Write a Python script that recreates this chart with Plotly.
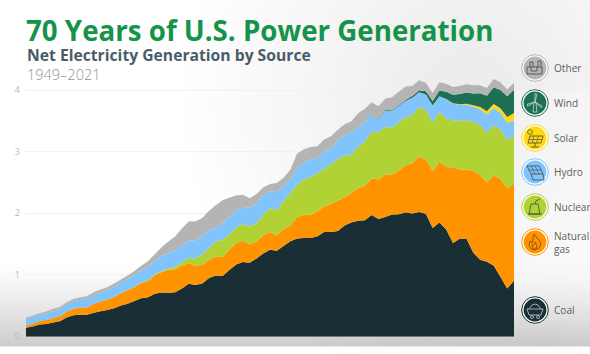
import math
import plotly.graph_objects as go

W, H = 590, 354
L, R, T, B = 26, 514, 65, 336

years = list(range(1949, 2022))
coal = [135,155,185,195,219,239,301,339,346,344,378,403,422,450,494,526,571,614,630,685,706,704,713,771,848,828,853,944,985,976,1075,1162,1203,1192,1259,1342,1402,1386,1464,1541,1584,1594,1592,1622,1690,1691,1709,1796,1845,1873,1881,1966,1904,1933,1974,1978,2013,1991,2016,1986,1756,1847,1733,1514,1581,1582,1352,1239,1206,1146,965,773,899]
gas = [37,45,57,65,72,80,95,104,114,120,147,158,169,184,202,220,222,251,265,304,333,373,374,376,341,320,300,295,306,305,329,346,346,305,274,297,292,249,273,253,352,373,381,404,415,461,496,455,479,532,557,601,639,691,650,710,761,816,897,883,921,988,1014,1226,1125,1127,1335,1378,1296,1469,1586,1624,1580]
nuclear = [0,0,0,0,0,0,0,0,0,0,0,1,2,2,3,3,4,6,8,13,14,22,38,54,83,114,173,191,251,276,255,251,273,283,294,328,384,414,455,527,529,577,613,619,610,640,673,675,629,674,728,754,769,780,764,789,782,787,806,806,799,807,790,769,789,797,797,806,805,807,809,790,778]
hydro = [95,102,105,110,110,112,116,123,130,140,138,146,152,169,166,177,194,195,222,223,250,248,266,273,272,301,300,284,220,280,280,276,261,309,332,321,281,290,250,223,265,290,286,250,277,254,305,343,351,318,312,271,208,260,271,265,265,282,243,250,269,255,314,270,264,254,244,263,294,287,271,282,252]
solar = [0]*59 + [1,1,1,2,4,9,18,25,36,53,64,72,90,115]
wind = [0]*51 + [6,7,10,11,14,18,27,34,55,74,95,120,141,168,182,191,227,254,273,298,338,379]
other = [29,27,24,29,42,41,35,35,42,41,47,48,49,47,52,58,64,78,89,104,139,188,225,273,317,304,292,324,362,369,308,251,212,152,151,128,111,148,130,160,237,204,201,189,205,202,170,175,188,223,217,204,210,184,213,215,216,162,161,138,130,132,127,124,130,134,134,128,126,132,127,112,113]

series = [
    ("Coal", coal, "#1a2e35"),
    ("Natural gas", gas, "#ff9400"),
    ("Nuclear", nuclear, "#b0d235"),
    ("Hydro", hydro, "#80c4fb"),
    ("Solar", solar, "#ffd90f"),
    ("Wind", wind, "#1f7052"),
    ("Other", other, "#b4b4b4"),
]
y_ticks = [0, 1, 2, 3, 4]
PX_PER_UNIT = 61.5


def px(x):
    return (x - L) / (R - L)


def py(y):
    return (B - y) / (B - T)


fig = go.Figure()
for name, vals, col in series:
    fig.add_trace(go.Scatter(
        x=years, y=[v / 1000 for v in vals], name=name, stackgroup="one",
        mode="none", fillcolor=col, hoverinfo="x+y+name", showlegend=False,
    ))

shapes = []


def rect(x0, y0, x1, y1, col, op=1.0):
    shapes.append(dict(type="rect", xref="paper", yref="paper", layer="below",
                       x0=px(x0), x1=px(x1), y0=py(y0), y1=py(y1),
                       fillcolor=col, opacity=op, line=dict(width=0)))


def circle(cx, cy, r, fill=None, line=None, lw=1, op=1.0, layer="above"):
    shapes.append(dict(type="circle", xref="paper", yref="paper", layer=layer,
                       x0=px(cx - r), x1=px(cx + r), y0=py(cy - r), y1=py(cy + r),
                       fillcolor=fill if fill else "rgba(0,0,0,0)", opacity=op,
                       line=dict(width=lw if line else 0, color=line or "rgba(0,0,0,0)")))


def path(cx, cy, pts, col, lw=0.8, close=False):
    d = "M" + " L".join(f"{px(cx + a):.5f},{py(cy + b):.5f}" for a, b in pts)
    if close:
        d += " Z"
    shapes.append(dict(type="path", xref="paper", yref="paper", layer="above", path=d,
                       line=dict(width=lw, color=col)))


# background: white top, grey floor gradient
steps = 42
for i in range(steps):
    y0 = 262 + i * 2
    t = (i + 1) / steps
    v = round(255 - 50 * t ** 1.25)
    rect(-1, y0, W + 1, y0 + 2.5, f"rgb({v},{v},{v})")
# soft blue-grey glow upper right
for r in range(50, 290, 14):
    circle(470, 100, r, fill="#8f979e", op=0.009, layer="below")
# lighter panel behind the legend, fading out toward the floor
for i in range(14):
    y0 = 280 + i * 4
    rect(R, y0, W + 1, y0 + 4, "#ffffff", 0.25 * (1 - i / 14))
rect(R, 90, W + 1, 280, "#ffffff", 0.25)

ICON = "#3f4a4d"
legend = [
    ("Other", 68, "#b4b4b4"),
    ("Wind", 103, "#1f7052"),
    ("Solar", 138, "#ffd90f"),
    ("Hydro", 172, "#80c4fb"),
    ("Nuclear", 207, "#b0d235"),
    ("Natural<br>gas", 242, "#ff9400"),
    ("Coal", 310, "#1a2e35"),
]
CX = 535
for label, cy, col in legend:
    circle(CX, cy, 13.3, fill="#ffffff", line=col, lw=1)
    circle(CX, cy, 11.4, fill=col)

# Other: factory
cy = 68
path(CX, cy, [(-8, 6), (-8, -1), (7, -1), (7, 6), (-8, 6)], ICON)
path(CX, cy, [(-4, -1), (-4, 3), (2, 3), (2, -1)], ICON)
path(CX, cy, [(-5, -1), (-5, -6), (-2, -6), (-2, -1)], ICON)
path(CX, cy, [(3, -1), (3, -7), (6, -7), (6, -1)], ICON)
# Wind: turbine
cy = 103
W_ICON = "#d5e6de"
for ang in (-90, 30, 150):
    a = math.radians(ang)
    b = math.radians(ang + 14)
    path(CX, cy - 1, [(0, 0), (8 * math.cos(b), 8 * math.sin(b)), (8.5 * math.cos(a), 8.5 * math.sin(a)), (0, 0)], W_ICON, 0.7)
path(CX, cy - 1, [(-1, 1), (-2, 10), (2, 10), (1, 1)], W_ICON, 0.7)
# Solar: panel and sun
cy = 138
path(CX, cy, [(-5, -2), (8, -2), (6, 5), (-7, 5), (-5, -2)], ICON)
path(CX, cy, [(-6, 1.5), (7, 1.5)], ICON, 0.6)
path(CX, cy, [(-1, -2), (-3, 5)], ICON, 0.6)
path(CX, cy, [(3.5, -2), (1.5, 5)], ICON, 0.6)
path(CX, cy, [(0, 5), (0, 9)], ICON)
path(CX, cy, [(-4, 9), (4, 9)], ICON)
circle(CX - 5, cy - 6, 2.4, line=ICON, lw=0.7)
# Hydro: tilted panel
cy = 172
path(CX, cy, [(-8, -6), (4, -6), (8, 2), (-4, 2), (-8, -6)], ICON)
path(CX, cy, [(-6, -2), (6, -2)], ICON, 0.6)
path(CX, cy, [(-4, -6), (0, 2)], ICON, 0.6)
path(CX, cy, [(0, -6), (4, 2)], ICON, 0.6)
path(CX, cy, [(-4, 2), (-2, 8), (9, 8), (8, 2)], ICON)
# Nuclear: cooling tower
cy = 207
path(CX, cy, [(-4, -3), (3, -3), (5, 7), (-6, 7), (-4, -3)], ICON)
path(CX, cy, [(-7, 7), (7, 7)], ICON)
path(CX, cy, [(0, -3), (1, -6), (5, -8)], ICON)
# Gas: flame
cy = 242
path(CX, cy, [(-1, -8), (2, -4), (4, -2), (6, 2), (4, 6), (0, 8), (-4, 7), (-6, 3), (-5, -1), (-3, 1), (-2, -3), (-1, -8)], "#7a4a10")
path(CX, cy, [(0, 0), (2, 3), (1, 7), (-2, 7), (-3, 3), (-1, 3), (0, 0)], "#7a4a10", 0.7)
# Coal: cart
cy = 310
C_ICON = "#c8ced0"
path(CX, cy, [(-8, -1), (8, -1), (6, 5), (-6, 5), (-8, -1)], C_ICON)
path(CX, cy, [(-6, -1), (-3, -5), (0, -6), (3, -5), (6, -1)], C_ICON)
circle(CX - 3, cy + 7, 1.5, line=C_ICON, lw=0.8)
circle(CX + 3, cy + 7, 1.5, line=C_ICON, lw=0.8)

# baseline
path(0, 0, [(L, B + 0.5), (R, B + 0.5)], "#5b6468", 0.8)

annotations = []


def text(x, y, s, size, col, weight=400, family="Open Sans"):
    annotations.append(dict(xref="paper", yref="paper", x=px(x), y=py(y), text=s, showarrow=False,
                            xanchor="left", yanchor="middle", align="left",
                            font=dict(size=size, color=col, family=family, weight=weight)))


text(24, 30, "70 Years of U.S. Power Generation", 27.7, "#16934a", 700)
text(25, 55.5, "Net Electricity Generation by Source", 15.7, "#4b5c68", 700)
text(25, 74.5, "1949–2021", 14.5, "#8e969b", 300)
for label, cy, col in legend:
    text(552, cy, label, 10.1, "#5a5f62")

fig.update_layout(
    width=W, height=H, autosize=False,
    margin=dict(l=L, r=W - R, t=T, b=H - B, pad=0),
    paper_bgcolor="white", plot_bgcolor="rgba(0,0,0,0)",
    shapes=shapes, annotations=annotations,
    xaxis=dict(range=[1949, 2021], visible=False, fixedrange=True),
    yaxis=dict(range=[0, (B - T) / PX_PER_UNIT], tickvals=y_ticks, ticktext=[str(t) for t in y_ticks],
               showgrid=True, gridcolor="#f1f1f1", gridwidth=1, zeroline=False, showline=False,
               ticks="", ticklen=0, ticklabelstandoff=5,
               tickfont=dict(size=9, color="#b9b9b9", family="Open Sans"),
               fixedrange=True),
)
fig.write_html("out.html", config={"displayModeBar": False},
               post_script="document.body.style.margin='0';document.body.style.overflow='hidden';")
